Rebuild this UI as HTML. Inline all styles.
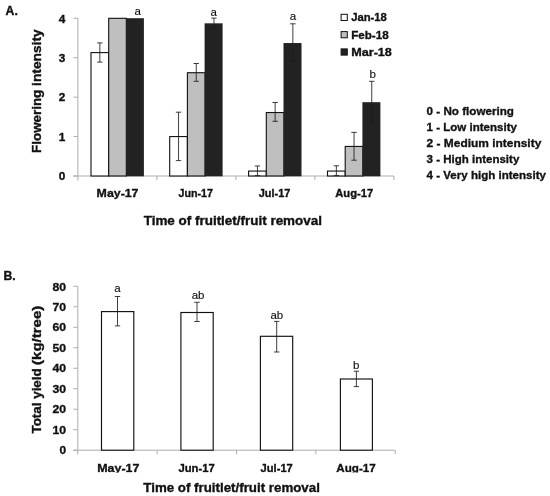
<!DOCTYPE html>
<html><head><meta charset="utf-8"><title>Figure</title>
<style>html,body{margin:0;padding:0;background:#fff}svg{display:block}</style>
</head><body>
<svg width="550" height="496" viewBox="0 0 550 496">
<rect width="550" height="496" fill="#fff"/>
<line x1="77.9" y1="18.3" x2="77.9" y2="180.5" stroke="#adadad" stroke-width="1"/>
<line x1="73.4" y1="176.0" x2="393.9" y2="176.0" stroke="#adadad" stroke-width="1"/>
<line x1="73.4" y1="176.0" x2="77.9" y2="176.0" stroke="#adadad" stroke-width="1"/>
<text x="65.4" y="180.3" font-size="11.8" font-family="Liberation Sans, sans-serif" font-weight="bold" text-anchor="end" fill="#111" stroke="#111" stroke-width="0.35">0</text>
<line x1="73.4" y1="136.575" x2="77.9" y2="136.575" stroke="#adadad" stroke-width="1"/>
<text x="65.4" y="140.88" font-size="11.8" font-family="Liberation Sans, sans-serif" font-weight="bold" text-anchor="end" fill="#111" stroke="#111" stroke-width="0.35">1</text>
<line x1="73.4" y1="97.15" x2="77.9" y2="97.15" stroke="#adadad" stroke-width="1"/>
<text x="65.4" y="101.45" font-size="11.8" font-family="Liberation Sans, sans-serif" font-weight="bold" text-anchor="end" fill="#111" stroke="#111" stroke-width="0.35">2</text>
<line x1="73.4" y1="57.72500000000001" x2="77.9" y2="57.72500000000001" stroke="#adadad" stroke-width="1"/>
<text x="65.4" y="62.03" font-size="11.8" font-family="Liberation Sans, sans-serif" font-weight="bold" text-anchor="end" fill="#111" stroke="#111" stroke-width="0.35">3</text>
<line x1="73.4" y1="18.30000000000001" x2="77.9" y2="18.30000000000001" stroke="#adadad" stroke-width="1"/>
<text x="65.4" y="22.6" font-size="11.8" font-family="Liberation Sans, sans-serif" font-weight="bold" text-anchor="end" fill="#111" stroke="#111" stroke-width="0.35">4</text>
<line x1="156.9" y1="176.0" x2="156.9" y2="180.0" stroke="#adadad" stroke-width="1"/>
<line x1="235.9" y1="176.0" x2="235.9" y2="180.0" stroke="#adadad" stroke-width="1"/>
<line x1="314.9" y1="176.0" x2="314.9" y2="180.0" stroke="#adadad" stroke-width="1"/>
<line x1="393.9" y1="176.0" x2="393.9" y2="180.0" stroke="#adadad" stroke-width="1"/>
<rect x="91.00" y="52.60" width="17.7" height="123.40" fill="#ffffff" stroke="#111" stroke-width="1.1"/>
<rect x="108.70" y="18.30" width="17.7" height="157.70" fill="#bfbfbf" stroke="#111" stroke-width="1.1"/>
<rect x="125.90" y="18.20" width="18.0" height="158.10" fill="#222222"/>
<line x1="99.85" y1="42.9" x2="99.85" y2="62.1" stroke="#1c1c1c" stroke-width="0.85"/>
<line x1="97.14999999999999" y1="42.9" x2="102.55" y2="42.9" stroke="#1c1c1c" stroke-width="0.85"/>
<line x1="97.14999999999999" y1="62.1" x2="102.55" y2="62.1" stroke="#1c1c1c" stroke-width="0.85"/>
<rect x="169.70" y="136.57" width="17.7" height="39.43" fill="#ffffff" stroke="#111" stroke-width="1.1"/>
<rect x="187.40" y="72.71" width="17.7" height="103.29" fill="#bfbfbf" stroke="#111" stroke-width="1.1"/>
<rect x="204.60" y="23.33" width="18.0" height="152.97" fill="#222222"/>
<line x1="178.55" y1="112.2" x2="178.55" y2="160.6" stroke="#1c1c1c" stroke-width="0.85"/>
<line x1="175.85000000000002" y1="112.2" x2="181.25" y2="112.2" stroke="#1c1c1c" stroke-width="0.85"/>
<line x1="175.85000000000002" y1="160.6" x2="181.25" y2="160.6" stroke="#1c1c1c" stroke-width="0.85"/>
<line x1="196.25" y1="63.5" x2="196.25" y2="81.3" stroke="#1c1c1c" stroke-width="0.85"/>
<line x1="193.55" y1="63.5" x2="198.95" y2="63.5" stroke="#1c1c1c" stroke-width="0.85"/>
<line x1="193.55" y1="81.3" x2="198.95" y2="81.3" stroke="#1c1c1c" stroke-width="0.85"/>
<line x1="213.95" y1="18.1" x2="213.95" y2="28.2" stroke="#1c1c1c" stroke-width="0.85"/>
<line x1="211.25" y1="18.1" x2="216.64999999999998" y2="18.1" stroke="#1c1c1c" stroke-width="0.85"/>
<line x1="211.25" y1="28.2" x2="216.64999999999998" y2="28.2" stroke="#1c1c1c" stroke-width="0.85"/>
<rect x="248.60" y="171.07" width="17.7" height="4.93" fill="#ffffff" stroke="#111" stroke-width="1.1"/>
<rect x="266.30" y="112.53" width="17.7" height="63.47" fill="#bfbfbf" stroke="#111" stroke-width="1.1"/>
<rect x="283.50" y="43.04" width="18.0" height="133.26" fill="#222222"/>
<line x1="257.45" y1="166.0" x2="257.45" y2="175.6" stroke="#1c1c1c" stroke-width="0.85"/>
<line x1="254.75" y1="166.0" x2="260.15" y2="166.0" stroke="#1c1c1c" stroke-width="0.85"/>
<line x1="254.75" y1="175.6" x2="260.15" y2="175.6" stroke="#1c1c1c" stroke-width="0.85"/>
<line x1="275.15" y1="102.5" x2="275.15" y2="121.3" stroke="#1c1c1c" stroke-width="0.85"/>
<line x1="272.45" y1="102.5" x2="277.84999999999997" y2="102.5" stroke="#1c1c1c" stroke-width="0.85"/>
<line x1="272.45" y1="121.3" x2="277.84999999999997" y2="121.3" stroke="#1c1c1c" stroke-width="0.85"/>
<line x1="292.85" y1="23.8" x2="292.85" y2="61.1" stroke="#1c1c1c" stroke-width="0.85"/>
<line x1="290.15000000000003" y1="23.8" x2="295.55" y2="23.8" stroke="#1c1c1c" stroke-width="0.85"/>
<line x1="290.15000000000003" y1="61.1" x2="295.55" y2="61.1" stroke="#1c1c1c" stroke-width="0.85"/>
<rect x="327.50" y="171.07" width="17.7" height="4.93" fill="#ffffff" stroke="#111" stroke-width="1.1"/>
<rect x="345.20" y="146.43" width="17.7" height="29.57" fill="#bfbfbf" stroke="#111" stroke-width="1.1"/>
<rect x="362.40" y="102.18" width="18.0" height="74.12" fill="#222222"/>
<line x1="336.35" y1="165.8" x2="336.35" y2="175.6" stroke="#1c1c1c" stroke-width="0.85"/>
<line x1="333.65000000000003" y1="165.8" x2="339.05" y2="165.8" stroke="#1c1c1c" stroke-width="0.85"/>
<line x1="333.65000000000003" y1="175.6" x2="339.05" y2="175.6" stroke="#1c1c1c" stroke-width="0.85"/>
<line x1="354.05" y1="132.4" x2="354.05" y2="160.2" stroke="#1c1c1c" stroke-width="0.85"/>
<line x1="351.35" y1="132.4" x2="356.75" y2="132.4" stroke="#1c1c1c" stroke-width="0.85"/>
<line x1="351.35" y1="160.2" x2="356.75" y2="160.2" stroke="#1c1c1c" stroke-width="0.85"/>
<line x1="371.75" y1="81.3" x2="371.75" y2="122.2" stroke="#1c1c1c" stroke-width="0.85"/>
<line x1="369.05" y1="81.3" x2="374.45" y2="81.3" stroke="#1c1c1c" stroke-width="0.85"/>
<line x1="369.05" y1="122.2" x2="374.45" y2="122.2" stroke="#1c1c1c" stroke-width="0.85"/>
<text x="137.6" y="14.6" font-size="11.5" font-family="Liberation Sans, sans-serif" text-anchor="middle" fill="#111" stroke="#111" stroke-width="0.15">a</text>
<text x="213.7" y="15.6" font-size="11.5" font-family="Liberation Sans, sans-serif" text-anchor="middle" fill="#111" stroke="#111" stroke-width="0.15">a</text>
<text x="293.0" y="20.2" font-size="11.5" font-family="Liberation Sans, sans-serif" text-anchor="middle" fill="#111" stroke="#111" stroke-width="0.15">a</text>
<text x="372.6" y="78.0" font-size="11.5" font-family="Liberation Sans, sans-serif" text-anchor="middle" fill="#111" stroke="#111" stroke-width="0.15">b</text>
<text x="96.6" y="196.5" font-size="11.5" font-family="Liberation Sans, sans-serif" font-weight="bold" text-anchor="start" textLength="41.9" lengthAdjust="spacingAndGlyphs" fill="#111" stroke="#111" stroke-width="0.35">May-17</text>
<text x="178.5" y="196.5" font-size="11.5" font-family="Liberation Sans, sans-serif" font-weight="bold" text-anchor="start" textLength="34.5" lengthAdjust="spacingAndGlyphs" fill="#111" stroke="#111" stroke-width="0.35">Jun-17</text>
<text x="258.7" y="196.5" font-size="11.5" font-family="Liberation Sans, sans-serif" font-weight="bold" text-anchor="start" textLength="31.7" lengthAdjust="spacingAndGlyphs" fill="#111" stroke="#111" stroke-width="0.35">Jul-17</text>
<text x="335.2" y="196.5" font-size="11.5" font-family="Liberation Sans, sans-serif" font-weight="bold" text-anchor="start" textLength="38.0" lengthAdjust="spacingAndGlyphs" fill="#111" stroke="#111" stroke-width="0.35">Aug-17</text>
<text x="143.7" y="224.6" font-size="12.6" font-family="Liberation Sans, sans-serif" font-weight="bold" text-anchor="start" textLength="178.3" lengthAdjust="spacingAndGlyphs" fill="#111" stroke="#111" stroke-width="0.35">Time of fruitlet/fruit removal</text>
<text transform="translate(40.9,152.9) rotate(-90)" font-size="12.6" font-family="Liberation Sans, sans-serif" font-weight="bold" textLength="63.2" lengthAdjust="spacingAndGlyphs" fill="#111" stroke="#111" stroke-width="0.35">Flowering</text>
<text transform="translate(40.9,85.9) rotate(-90)" font-size="12.6" font-family="Liberation Sans, sans-serif" font-weight="bold" textLength="56.7" lengthAdjust="spacingAndGlyphs" fill="#111" stroke="#111" stroke-width="0.35">intensity</text>
<text x="5.6" y="14.6" font-size="12.2" font-family="Liberation Sans, sans-serif" font-weight="bold" text-anchor="start" fill="#111" stroke="#111" stroke-width="0.35">A.</text>
<rect x="341.1" y="14.30" width="6.2" height="6.2" fill="#ffffff" stroke="#111" stroke-width="1"/>
<text x="351.2" y="21.2" font-size="11.6" font-family="Liberation Sans, sans-serif" font-weight="bold" text-anchor="start" textLength="35.7" lengthAdjust="spacingAndGlyphs" fill="#111" stroke="#111" stroke-width="0.35">Jan-18</text>
<rect x="341.1" y="31.60" width="6.2" height="6.2" fill="#bfbfbf" stroke="#111" stroke-width="1"/>
<text x="351.2" y="38.5" font-size="11.6" font-family="Liberation Sans, sans-serif" font-weight="bold" text-anchor="start" textLength="37.5" lengthAdjust="spacingAndGlyphs" fill="#111" stroke="#111" stroke-width="0.35">Feb-18</text>
<rect x="341.1" y="48.90" width="6.2" height="6.2" fill="#222222" stroke="#111" stroke-width="1"/>
<text x="351.2" y="55.8" font-size="11.6" font-family="Liberation Sans, sans-serif" font-weight="bold" text-anchor="start" textLength="40.7" lengthAdjust="spacingAndGlyphs" fill="#111" stroke="#111" stroke-width="0.35">Mar-18</text>
<text x="426.6" y="115.0" font-size="11.8" font-family="Liberation Sans, sans-serif" font-weight="bold" text-anchor="start" textLength="87.4" lengthAdjust="spacingAndGlyphs" fill="#111" stroke="#111" stroke-width="0.35">0 - No flowering</text>
<text x="426.6" y="130.93" font-size="11.8" font-family="Liberation Sans, sans-serif" font-weight="bold" text-anchor="start" textLength="90.3" lengthAdjust="spacingAndGlyphs" fill="#111" stroke="#111" stroke-width="0.35">1 - Low intensity</text>
<text x="426.6" y="146.86" font-size="11.8" font-family="Liberation Sans, sans-serif" font-weight="bold" text-anchor="start" textLength="114.7" lengthAdjust="spacingAndGlyphs" fill="#111" stroke="#111" stroke-width="0.35">2 - Medium intensity</text>
<text x="426.6" y="162.79" font-size="11.8" font-family="Liberation Sans, sans-serif" font-weight="bold" text-anchor="start" textLength="92.7" lengthAdjust="spacingAndGlyphs" fill="#111" stroke="#111" stroke-width="0.35">3 - High intensity</text>
<text x="426.6" y="178.72" font-size="11.8" font-family="Liberation Sans, sans-serif" font-weight="bold" text-anchor="start" textLength="119.4" lengthAdjust="spacingAndGlyphs" fill="#111" stroke="#111" stroke-width="0.35">4 - Very high intensity</text>
<line x1="77.8" y1="286.3" x2="77.8" y2="454.7" stroke="#adadad" stroke-width="1"/>
<line x1="73.3" y1="450.2" x2="395.2" y2="450.2" stroke="#adadad" stroke-width="1"/>
<line x1="73.3" y1="450.2" x2="77.8" y2="450.2" stroke="#adadad" stroke-width="1"/>
<text x="59.49999999999999" y="454.4" font-size="11.8" font-family="Liberation Sans, sans-serif" font-weight="bold" text-anchor="start" fill="#111" stroke="#111" stroke-width="0.35">0</text>
<line x1="73.3" y1="429.7125" x2="77.8" y2="429.7125" stroke="#adadad" stroke-width="1"/>
<text x="52.49999999999999" y="433.91" font-size="11.8" font-family="Liberation Sans, sans-serif" font-weight="bold" text-anchor="start" textLength="13.6" lengthAdjust="spacingAndGlyphs" fill="#111" stroke="#111" stroke-width="0.35">10</text>
<line x1="73.3" y1="409.225" x2="77.8" y2="409.225" stroke="#adadad" stroke-width="1"/>
<text x="52.49999999999999" y="413.43" font-size="11.8" font-family="Liberation Sans, sans-serif" font-weight="bold" text-anchor="start" textLength="13.6" lengthAdjust="spacingAndGlyphs" fill="#111" stroke="#111" stroke-width="0.35">20</text>
<line x1="73.3" y1="388.7375" x2="77.8" y2="388.7375" stroke="#adadad" stroke-width="1"/>
<text x="52.49999999999999" y="392.94" font-size="11.8" font-family="Liberation Sans, sans-serif" font-weight="bold" text-anchor="start" textLength="13.6" lengthAdjust="spacingAndGlyphs" fill="#111" stroke="#111" stroke-width="0.35">30</text>
<line x1="73.3" y1="368.25" x2="77.8" y2="368.25" stroke="#adadad" stroke-width="1"/>
<text x="52.49999999999999" y="372.45" font-size="11.8" font-family="Liberation Sans, sans-serif" font-weight="bold" text-anchor="start" textLength="13.6" lengthAdjust="spacingAndGlyphs" fill="#111" stroke="#111" stroke-width="0.35">40</text>
<line x1="73.3" y1="347.7625" x2="77.8" y2="347.7625" stroke="#adadad" stroke-width="1"/>
<text x="52.49999999999999" y="351.96" font-size="11.8" font-family="Liberation Sans, sans-serif" font-weight="bold" text-anchor="start" textLength="13.6" lengthAdjust="spacingAndGlyphs" fill="#111" stroke="#111" stroke-width="0.35">50</text>
<line x1="73.3" y1="327.275" x2="77.8" y2="327.275" stroke="#adadad" stroke-width="1"/>
<text x="52.49999999999999" y="331.47" font-size="11.8" font-family="Liberation Sans, sans-serif" font-weight="bold" text-anchor="start" textLength="13.6" lengthAdjust="spacingAndGlyphs" fill="#111" stroke="#111" stroke-width="0.35">60</text>
<line x1="73.3" y1="306.7875" x2="77.8" y2="306.7875" stroke="#adadad" stroke-width="1"/>
<text x="52.49999999999999" y="310.99" font-size="11.8" font-family="Liberation Sans, sans-serif" font-weight="bold" text-anchor="start" textLength="13.6" lengthAdjust="spacingAndGlyphs" fill="#111" stroke="#111" stroke-width="0.35">70</text>
<line x1="73.3" y1="286.3" x2="77.8" y2="286.3" stroke="#adadad" stroke-width="1"/>
<text x="52.49999999999999" y="290.5" font-size="11.8" font-family="Liberation Sans, sans-serif" font-weight="bold" text-anchor="start" textLength="13.6" lengthAdjust="spacingAndGlyphs" fill="#111" stroke="#111" stroke-width="0.35">80</text>
<line x1="157.14999999999998" y1="450.2" x2="157.14999999999998" y2="454.2" stroke="#adadad" stroke-width="1"/>
<line x1="236.5" y1="450.2" x2="236.5" y2="454.2" stroke="#adadad" stroke-width="1"/>
<line x1="315.84999999999997" y1="450.2" x2="315.84999999999997" y2="454.2" stroke="#adadad" stroke-width="1"/>
<line x1="395.2" y1="450.2" x2="395.2" y2="454.2" stroke="#adadad" stroke-width="1"/>
<rect x="101.5" y="311.6" width="32.30" height="138.60" fill="#fff" stroke="#111" stroke-width="1.15"/>
<rect x="180.9" y="312.5" width="32.30" height="137.70" fill="#fff" stroke="#111" stroke-width="1.15"/>
<rect x="260.4" y="336.3" width="32.30" height="113.90" fill="#fff" stroke="#111" stroke-width="1.15"/>
<rect x="340.4" y="379.0" width="32.00" height="71.20" fill="#fff" stroke="#111" stroke-width="1.15"/>
<line x1="117.5" y1="296.5" x2="117.5" y2="325.9" stroke="#1c1c1c" stroke-width="0.85"/>
<line x1="114.8" y1="296.5" x2="120.2" y2="296.5" stroke="#1c1c1c" stroke-width="0.85"/>
<line x1="114.8" y1="325.9" x2="120.2" y2="325.9" stroke="#1c1c1c" stroke-width="0.85"/>
<line x1="197.0" y1="302.3" x2="197.0" y2="321.5" stroke="#1c1c1c" stroke-width="0.85"/>
<line x1="194.3" y1="302.3" x2="199.7" y2="302.3" stroke="#1c1c1c" stroke-width="0.85"/>
<line x1="194.3" y1="321.5" x2="199.7" y2="321.5" stroke="#1c1c1c" stroke-width="0.85"/>
<line x1="276.7" y1="321.4" x2="276.7" y2="352.0" stroke="#1c1c1c" stroke-width="0.85"/>
<line x1="274.0" y1="321.4" x2="279.4" y2="321.4" stroke="#1c1c1c" stroke-width="0.85"/>
<line x1="274.0" y1="352.0" x2="279.4" y2="352.0" stroke="#1c1c1c" stroke-width="0.85"/>
<line x1="356.4" y1="371.2" x2="356.4" y2="386.6" stroke="#1c1c1c" stroke-width="0.85"/>
<line x1="353.7" y1="371.2" x2="359.09999999999997" y2="371.2" stroke="#1c1c1c" stroke-width="0.85"/>
<line x1="353.7" y1="386.6" x2="359.09999999999997" y2="386.6" stroke="#1c1c1c" stroke-width="0.85"/>
<text x="117.5" y="292.1" font-size="11.5" font-family="Liberation Sans, sans-serif" text-anchor="middle" fill="#111" stroke="#111" stroke-width="0.15">a</text>
<text x="198.1" y="299.4" font-size="11.5" font-family="Liberation Sans, sans-serif" text-anchor="middle" fill="#111" stroke="#111" stroke-width="0.15">ab</text>
<text x="276.8" y="318.5" font-size="11.5" font-family="Liberation Sans, sans-serif" text-anchor="middle" fill="#111" stroke="#111" stroke-width="0.15">ab</text>
<text x="356.2" y="368.5" font-size="11.5" font-family="Liberation Sans, sans-serif" text-anchor="middle" fill="#111" stroke="#111" stroke-width="0.15">b</text>
<text x="97.2" y="471.7" font-size="11.6" font-family="Liberation Sans, sans-serif" font-weight="bold" text-anchor="start" textLength="42.2" lengthAdjust="spacingAndGlyphs" fill="#111" stroke="#111" stroke-width="0.35">May-17</text>
<text x="178.4" y="471.7" font-size="11.6" font-family="Liberation Sans, sans-serif" font-weight="bold" text-anchor="start" textLength="36.4" lengthAdjust="spacingAndGlyphs" fill="#111" stroke="#111" stroke-width="0.35">Jun-17</text>
<text x="260.6" y="471.7" font-size="11.6" font-family="Liberation Sans, sans-serif" font-weight="bold" text-anchor="start" textLength="32.2" lengthAdjust="spacingAndGlyphs" fill="#111" stroke="#111" stroke-width="0.35">Jul-17</text>
<text x="336.3" y="471.7" font-size="11.6" font-family="Liberation Sans, sans-serif" font-weight="bold" text-anchor="start" textLength="39.4" lengthAdjust="spacingAndGlyphs" fill="#111" stroke="#111" stroke-width="0.35">Aug-17</text>
<rect x="90" y="472.6" width="300" height="6" fill="#fff"/>
<text x="143.3" y="492.3" font-size="13.3" font-family="Liberation Sans, sans-serif" font-weight="bold" text-anchor="start" textLength="176.6" lengthAdjust="spacingAndGlyphs" fill="#111" stroke="#111" stroke-width="0.35">Time of fruitlet/fruit removal</text>
<text transform="translate(40.9,433.5) rotate(-90)" font-size="12.6" font-family="Liberation Sans, sans-serif" font-weight="bold" textLength="65.2" lengthAdjust="spacingAndGlyphs" fill="#111" stroke="#111" stroke-width="0.35">Total yield</text>
<text transform="translate(40.9,364.9) rotate(-90)" font-size="12.6" font-family="Liberation Sans, sans-serif" font-weight="bold" textLength="59.2" lengthAdjust="spacingAndGlyphs" fill="#111" stroke="#111" stroke-width="0.35">(kg/tree)</text>
<text x="3.4" y="279.5" font-size="12.2" font-family="Liberation Sans, sans-serif" font-weight="bold" text-anchor="start" fill="#111" stroke="#111" stroke-width="0.35">B.</text>
</svg>
</body></html>
